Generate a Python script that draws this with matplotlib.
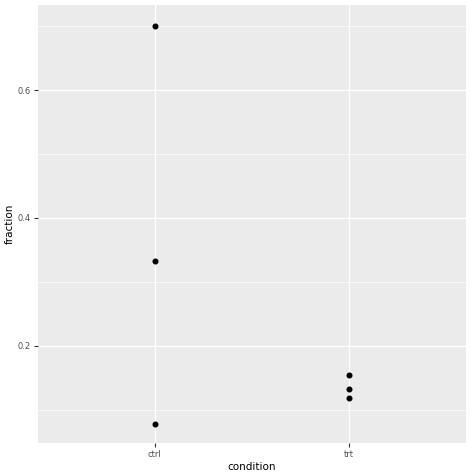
import matplotlib
matplotlib.use("Agg")
import matplotlib.pyplot as plt

conditions = ["ctrl", "ctrl", "ctrl", "trt", "trt", "trt"]
fractions = [0.700, 0.333, 0.077, 0.155, 0.133, 0.119]
categories = ["ctrl", "trt"]

xpos = [categories.index(c) + 1 for c in conditions]

fig = plt.figure(figsize=(4.74, 4.74), dpi=100)
ax = fig.add_axes([38 / 474, 31 / 474, 428 / 474, 438 / 474])
ax.set_facecolor("#EBEBEB")
ax.scatter(xpos, fractions, s=11, color="black", zorder=3)

ax.set_xlim(0.4, 2.6)
ax.set_ylim(0.048, 0.733)
ax.set_xticks([1, 2])
ax.set_xticklabels(categories)
ax.set_yticks([0.2, 0.4, 0.6])
ax.set_yticks([0.1, 0.3, 0.5, 0.7], minor=True)
ax.grid(True, which="major", color="white", linewidth=1.0)
ax.grid(True, which="minor", axis="y", color="white", linewidth=0.5)
ax.set_axisbelow(True)
for s in ax.spines.values():
    s.set_visible(False)
ax.tick_params(axis="both", which="major", length=3, color="#333333",
               labelsize=6, labelcolor="#4D4D4D", pad=2)
ax.tick_params(axis="both", which="minor", length=0)
ax.set_xlabel("condition", fontsize=7.5, labelpad=2)
ax.set_ylabel("fraction", fontsize=7.5, labelpad=2)

fig.savefig("out.png", dpi=100)
